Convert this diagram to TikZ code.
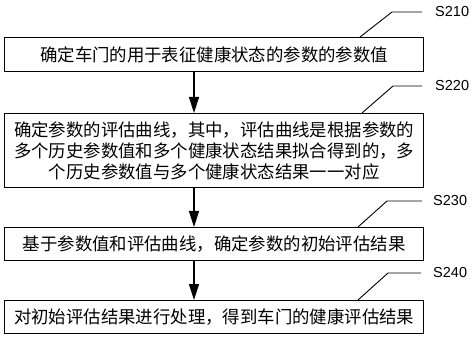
\documentclass[tikz,border=0pt]{standalone}
\usepackage{fontspec}
\setmainfont{Liberation Sans}
\newfontfamily\cjk{Noto Sans CJK SC}
\usetikzlibrary{arrows.meta}
\begin{document}
\begin{tikzpicture}[x=1pt,y=-1pt,
  stepbox/.style={draw,line width=1.4pt,minimum width=419pt,inner sep=0pt,anchor=north west,align=center,font=\cjk\fontsize{17.4}{21}\selectfont},
  flow/.style={line width=1.4pt,-{Triangle[length=16pt,width=10pt]}},
  leader/.style={line width=0.9pt},
  steplabel/.style={font=\fontsize{14.5}{16}\selectfont,anchor=west,inner sep=0pt}]
\useasboundingbox (0,0) rectangle (474,339);
\node[stepbox,minimum height=34pt] (b1) at (4,37) {确定车门的用于表征健康状态的参数的参数值};
\node[stepbox,minimum height=74pt] (b2) at (4,113) {确定参数的评估曲线，其中，评估曲线是根据参数的\\多个历史参数值和多个健康状态结果拟合得到的，多\\个历史参数值与多个健康状态结果一一对应};
\node[stepbox,minimum height=33pt] (b3) at (4,227) {基于参数值和评估曲线，确定参数的初始评估结果};
\node[stepbox,minimum height=33pt] (b4) at (4,300) {对初始评估结果进行处理，得到车门的健康评估结果};
\draw[flow] (b1.south -| 194,0) -- (b2.north -| 194,0);
\draw[flow] (b2.south -| 194,0) -- (b3.north -| 194,0);
\draw[flow] (b3.south -| 194,0) -- (b4.north -| 194,0);
\coordinate (k1) at (392,12); \coordinate (e1) at (422,12);
\coordinate (k2) at (393,86); \coordinate (e2) at (422,86);
\coordinate (k3) at (387,201); \coordinate (e3) at (422,201);
\coordinate (k4) at (388,273); \coordinate (e4) at (421,273);
\draw[leader] (b1.north -| 360,0) -- (k1) -- (e1);
\draw[leader] (b2.north -| 362,0) -- (k2) -- (e2);
\draw[leader] (b3.north -| 358,0) -- (k3) -- (e3);
\draw[leader] (b4.north -| 358,0) -- (k4) -- (e4);
\node[steplabel] (l1) at (435,12) {S210};
\node[steplabel] (l2) at (435,86) {S220};
\node[steplabel] (l3) at (433,201) {S230};
\node[steplabel] (l4) at (433,273) {S240};
\end{tikzpicture}
\end{document}
